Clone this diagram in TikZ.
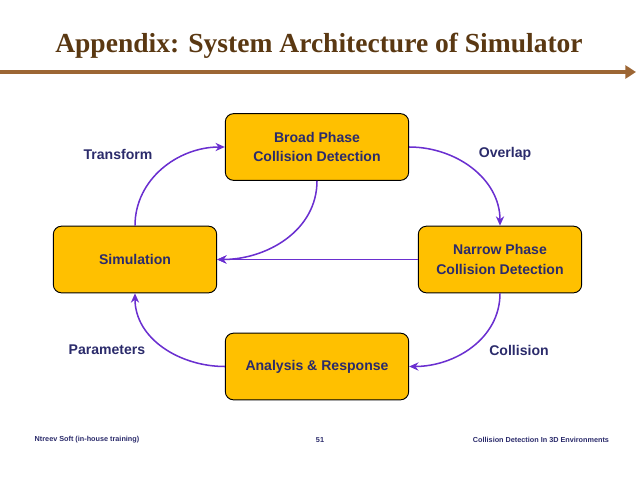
\documentclass[tikz,border=0pt]{standalone}
\usepackage{fontspec}
\setmainfont{Liberation Serif}
\setsansfont{Liberation Sans}
\usetikzlibrary{arrows.meta}
\definecolor{boxgold}{HTML}{FFC000}
\definecolor{flowpurple}{HTML}{6A2FD0}
\definecolor{labelnavy}{HTML}{2B2B6B}
\definecolor{titlebrown}{HTML}{5A3812}
\definecolor{rulebrown}{HTML}{9C6634}
\tikzset{
  stagebox/.style={draw=black, fill=boxgold, rounded corners=7pt, line width=0.8pt,
    minimum width=5.5cm, minimum height=2.0cm, align=center,
    font=\sffamily\bfseries\fontsize{12}{17}\selectfont, text=labelnavy},
  flow/.style={draw=flowpurple, line width=1.3pt, -{Stealth[length=8pt,width=7pt]}},
  flowlabel/.style={font=\sffamily\bfseries\fontsize{12}{14}\selectfont, text=labelnavy},
  footer/.style={font=\sffamily\bfseries\fontsize{6.2}{8}\selectfont, text=labelnavy}
}
\begin{document}
\begin{tikzpicture}[x=0.03cm, y=-0.03cm]
    \useasboundingbox (0,0) rectangle (638,479);
    % title and rule
    \node[font=\bfseries\fontsize{23.5}{28}\selectfont, text=titlebrown] (title) at (319,46) {Appendix: System Architecture of Simulator};
    \draw[rulebrown, line width=3pt, -{Triangle[length=9pt,width=11pt]}] (0,72) -- (636,72);
    % stages
    \node[stagebox] (broad) at (317,147) {Broad Phase\\Collision Detection};
    \node[stagebox, minimum width=4.9cm] (sim) at (135,259.5) {Simulation};
    \node[stagebox, minimum width=4.9cm] (narrow) at (500,259.5) {Narrow Phase\\Collision Detection};
    \node[stagebox] (analysis) at (317,366.5) {Analysis \& Response};
    % connectors
    \draw[flow] (sim.north) to[out=90, in=180] (broad.west);
    \draw[flow] (broad.east) to[out=0, in=90] (narrow.north);
    \draw[flow] (narrow.south) to[out=-90, in=0] (analysis.east);
    \draw[flow] (analysis.west) to[out=180, in=-90] (sim.south);
    \draw[flow] (broad.south) to[out=-90, in=0] (sim.east);
    \draw[flow] (narrow.west) -- (sim.east);
    % labels
    \node[flowlabel] (ltrans) at (118,154) {Transform};
    \node[flowlabel] (lover) at (505,154) {Overlap};
    \node[flowlabel] (lparam) at (107,350) {Parameters};
    \node[flowlabel] (lcoll) at (519,350) {Collision};
    % footer
    \node[footer] (fleft) at (87,440) {Ntreev Soft (in-house training)};
    \node[footer] (fmid) at (320,440) {51};
    \node[footer] (fright) at (541,440) {Collision Detection In 3D Environments};
\end{tikzpicture}
\end{document}
